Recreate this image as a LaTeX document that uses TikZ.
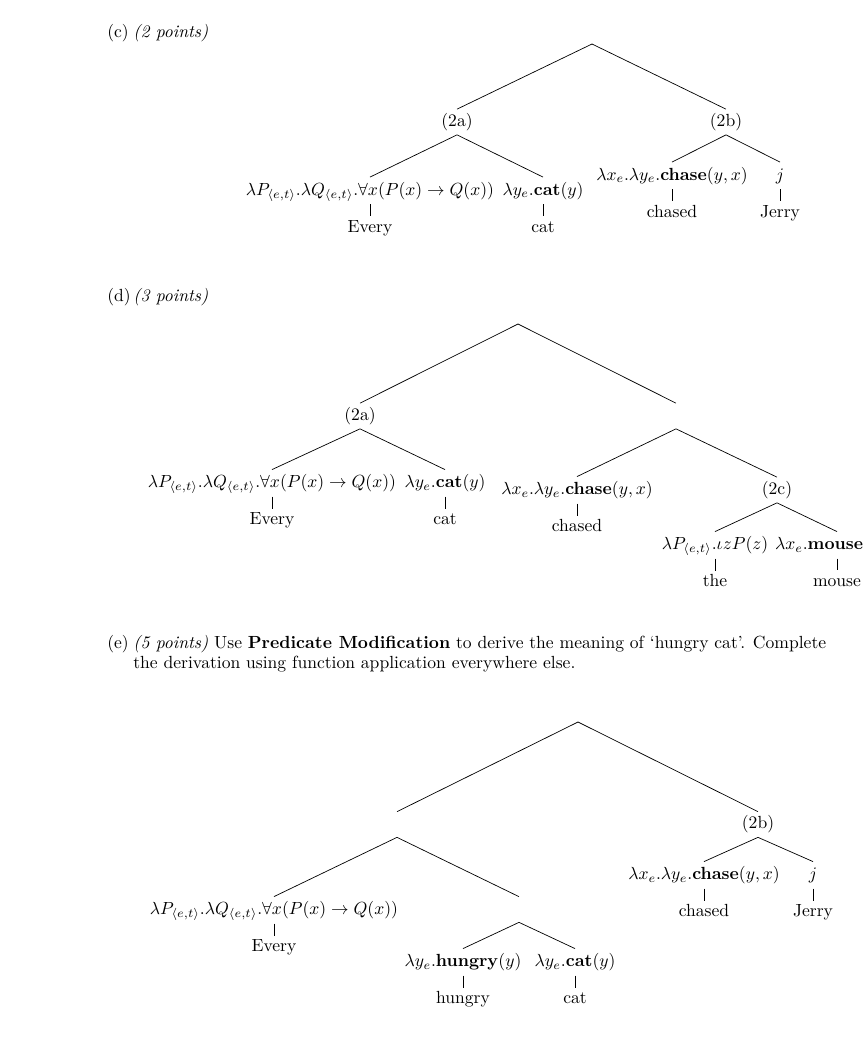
\documentclass[tikz,border=0pt]{standalone}
\usepackage{amsmath,amssymb}
\usepackage{tikz}
\usetikzlibrary{positioning}

\begin{document}
\begin{tikzpicture}[x=0.02cm, y=-0.02cm,
  sem/.style={inner sep=2pt, text height=8pt, text depth=3pt, anchor=base},
  word/.style={inner sep=2pt, text height=7pt, text depth=2pt},
  inode/.style={inner sep=0pt, minimum height=0.5cm},
  head/.style={anchor=base west, inner sep=0pt}]
  \useasboundingbox (0,0) rectangle (868,1042);

  % ---------------- (c)
  \node[head] (chd) at (107,37) {(c)};
  \node[head] (chdpts) at (133,37) {\textit{(2 points)}};
  \coordinate (c0) at (592,44);
  \node[inode] (c2a) at (457,122) {(2a)};
  \node[inode] (c2b) at (726,122) {(2b)};
  \node[sem] (csEvery) at (370,195) {$\lambda P_{\langle e,t\rangle}.\lambda Q_{\langle e,t\rangle}.\forall x(P(x)\rightarrow Q(x))$};
  \node[sem] (csCat) at (543,195) {$\lambda y_e.\mathbf{cat}(y)$};
  \node[sem] (csChase) at (672,180) {$\lambda x_e.\lambda y_e.\mathbf{chase}(y,x)$};
  \node[sem] (csJ) at (780,180) {$j$};
  \node[word, below=0.24cm of csEvery] (cwEvery) {Every};
  \node[word, below=0.24cm of csCat] (cwCat) {cat};
  \node[word, below=0.24cm of csChase] (cwChase) {chased};
  \node[word, below=0.24cm of csJ] (cwJ) {Jerry};
  % branches
  \draw (c0) -- (c2a.north);
  \draw (c0) -- (c2b.north);
  \draw (c2a.south) -- (csEvery.north);
  \draw (c2a.south) -- (csCat.north);
  \draw (c2b.south) -- (csChase.north);
  \draw (c2b.south) -- (csJ.north);
  \foreach \s/\w in {csEvery/cwEvery, csCat/cwCat, csChase/cwChase, csJ/cwJ}
    \draw (\s.south) -- (\w.north);

  % ---------------- (d)
  \node[head] (dhd) at (107,301) {(d)};
  \node[head] (dhdpts) at (133,301) {\textit{(3 points)}};
  \coordinate (d0) at (518,324);
  \node[inode] (d2a) at (360,416) {(2a)};
  \node[inode] (dvp) at (676,416) {};
  \node[sem] (dsEvery) at (272,487.5) {$\lambda P_{\langle e,t\rangle}.\lambda Q_{\langle e,t\rangle}.\forall x(P(x)\rightarrow Q(x))$};
  \node[sem] (dsCat) at (445,487.5) {$\lambda y_e.\mathbf{cat}(y)$};
  \node[sem] (dsChase) at (577,494.5) {$\lambda x_e.\lambda y_e.\mathbf{chase}(y,x)$};
  \node[inode] (d2c) at (777,490) {(2c)};
  \node[sem] (dsThe) at (715,549.5) {$\lambda P_{\langle e,t\rangle}.\iota z P(z)$};
  \node[sem, anchor=base east] (dsMouse) at (867,549.5) {$\lambda x_e.\mathbf{mouse}$};
  \node[word, below=0.24cm of dsEvery] (dwEvery) {Every};
  \node[word, below=0.24cm of dsCat] (dwCat) {cat};
  \node[word, below=0.24cm of dsChase] (dwChase) {chased};
  \node[word, below=0.24cm of dsThe] (dwThe) {the};
  \node[word, anchor=base] (dwMouse) at (837,586) {mouse};
  % branches
  \draw (d0) -- (d2a.north);
  \draw (d0) -- (dvp.north);
  \draw (d2a.south) -- (dsEvery.north);
  \draw (d2a.south) -- (dsCat.north);
  \draw (dvp.south) -- (dsChase.north);
  \draw (dvp.south) -- (d2c.north);
  \draw (d2c.south) -- (dsThe.north);
  \draw (d2c.south) -- (dsMouse.north -| dwMouse.north);
  \foreach \s/\w in {dsEvery/dwEvery, dsCat/dwCat, dsChase/dwChase, dsThe/dwThe}
    \draw (\s.south) -- (\w.north);
  \draw (dsMouse.south -| dwMouse.north) -- (dwMouse.north);

  % ---------------- (e)
  \node[head] (ehd) at (107,648) {(e)};
  \node[head] (ehdA) at (133,648) {\textit{(5 points)} Use \textbf{Predicate Modification} to derive the meaning of `hungry cat'. Complete};
  \node[head] (ehdB) at (133,668) {the derivation using function application everywhere else.};
  \coordinate (e0) at (578,722);
  \node[inode] (eL) at (397,824.5) {};
  \node[inode] (e2b) at (758,824.5) {(2b)};
  \node[sem] (esEvery) at (274,914.5) {$\lambda P_{\langle e,t\rangle}.\lambda Q_{\langle e,t\rangle}.\forall x(P(x)\rightarrow Q(x))$};
  \node[inode] (eHC) at (519,909.5) {};
  \node[sem] (esHungry) at (463,966.5) {$\lambda y_e.\mathbf{hungry}(y)$};
  \node[sem] (esCat) at (575,966.5) {$\lambda y_e.\mathbf{cat}(y)$};
  \node[sem] (esChase) at (704,879.5) {$\lambda x_e.\lambda y_e.\mathbf{chase}(y,x)$};
  \node[sem] (esJ) at (813,879.5) {$j$};
  \node[word, below=0.24cm of esEvery] (ewEvery) {Every};
  \node[word, below=0.24cm of esHungry] (ewHungry) {hungry};
  \node[word, below=0.24cm of esCat] (ewCat) {cat};
  \node[word, below=0.24cm of esChase] (ewChase) {chased};
  \node[word, below=0.24cm of esJ] (ewJ) {Jerry};
  % branches
  \draw (e0) -- (eL.north);
  \draw (e0) -- (e2b.north);
  \draw (eL.south) -- (esEvery.north);
  \draw (eL.south) -- (eHC.north);
  \draw (eHC.south) -- (esHungry.north);
  \draw (eHC.south) -- (esCat.north);
  \draw (e2b.south) -- (esChase.north);
  \draw (e2b.south) -- (esJ.north);
  \foreach \s/\w in {esEvery/ewEvery, esHungry/ewHungry, esCat/ewCat, esChase/ewChase, esJ/ewJ}
    \draw (\s.south) -- (\w.north);
\end{tikzpicture}
\end{document}
